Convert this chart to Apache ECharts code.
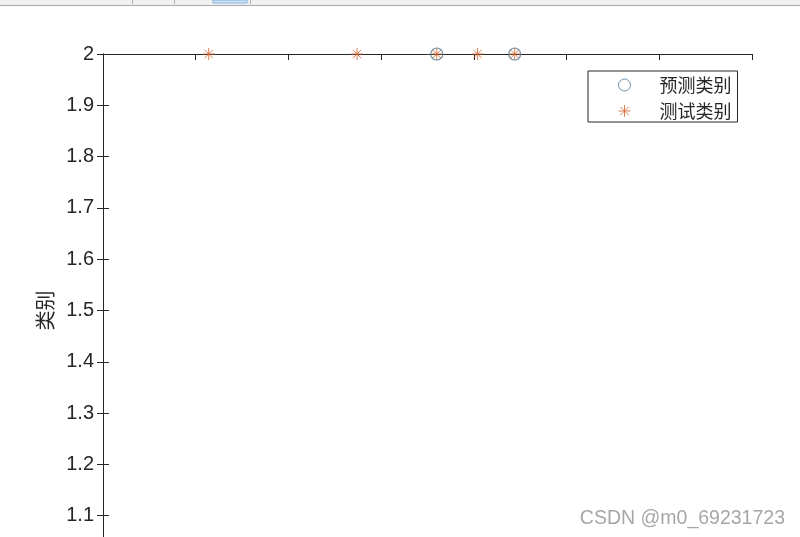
<!DOCTYPE html>
<html>
<head>
<meta charset="utf-8">
<script src="https://cdn.jsdelivr.net/npm/echarts@6/dist/echarts.min.js"></script>
<style>
  html, body { margin: 0; padding: 0; background: #fff; }
  #chart { width: 800px; height: 537px; }
</style>
</head>
<body>
<div id="chart"></div>
<script>
// 数据 (只读出了图中可见的点, y=1 的点在画面下方被裁掉)
var predX = [180, 222];          // 预测类别
var predY = [2, 2];
var testX = [57, 137, 180, 202, 222];   // 测试类别
var testY = [2, 2, 2, 2, 2];
var yTicks = [1, 1.1, 1.2, 1.3, 1.4, 1.5, 1.6, 1.7, 1.8, 1.9, 2];

var axisColor = '#262626';
var starPath = 'path://M0,-10L0,10M-10,0L10,0M-7,-7L7,7M-7,7L7,-7';

function pairs(xs, ys) {
    return xs.map(function(x, i) { return [x, ys[i]]; });
}

var chart = echarts.init(document.getElementById('chart'));

var option = {
    backgroundColor: '#fff',
    animation: false,
    grid: { left: 103, right: 48, top: 54, height: 513, outerBoundsMode: 'none', containLabel: false },
    legend: {
        left: 588,
        top: 71,
        orient: 'vertical',
        backgroundColor: '#fff',
        borderColor: axisColor,
        borderWidth: 1,
        borderRadius: 0,
        padding: [4, 6, 1, 28],
        itemWidth: 60,
        itemHeight: 12,
        itemGap: 6,
        itemStyle: { borderWidth: 1 },
        textStyle: {
            fontFamily: 'Noto Sans CJK SC',
            fontSize: 18,
            lineHeight: 20,
            color: axisColor
        },
        data: ['预测类别', '测试类别']
    },
    xAxis: [{
        type: 'value',
        min: 0, max: 350, interval: 50,
        axisLine: { lineStyle: { color: axisColor } },
        axisTick: { inside: true, length: 6, lineStyle: { color: axisColor } },
        axisLabel: { color: axisColor, fontSize: 20, fontFamily: 'Liberation Sans' },
        splitLine: { show: false }
    }, {
        type: 'value',
        position: 'top',
        min: 0, max: 350, interval: 50,
        axisLine: { lineStyle: { color: axisColor } },
        axisTick: { inside: true, length: 6, lineStyle: { color: axisColor } },
        axisLabel: { show: false },
        splitLine: { show: false }
    }],
    yAxis: [{
        type: 'value',
        min: yTicks[0], max: yTicks[yTicks.length - 1], interval: 0.1,
        name: '类别',
        nameLocation: 'middle',
        nameRotate: 90,
        nameGap: 46,
        nameTextStyle: { fontFamily: 'Noto Sans CJK SC', fontSize: 20, color: axisColor },
        axisLine: { show: true, lineStyle: { color: axisColor } },
        axisTick: { show: true, inside: true, length: 6, lineStyle: { color: axisColor } },
        axisLabel: {
            color: axisColor, fontSize: 20, fontFamily: 'Liberation Sans', margin: 9,
            formatter: function(v) { return String(Math.round(v * 10) / 10); }
        },
        splitLine: { show: false }
    }, {
        type: 'value',
        position: 'right',
        min: yTicks[0], max: yTicks[yTicks.length - 1], interval: 0.1,
        axisLine: { show: true, lineStyle: { color: axisColor } },
        axisTick: { show: true, inside: true, length: 6, lineStyle: { color: axisColor } },
        axisLabel: { show: false },
        splitLine: { show: false }
    }],
    series: [{
        name: '预测类别',
        type: 'scatter',
        clip: false,
        symbol: 'circle',
        symbolSize: 12,
        itemStyle: { color: 'none', borderColor: '#4d7c9c', borderWidth: 1.2 },
        data: pairs(predX, predY)
    }, {
        name: '测试类别',
        type: 'scatter',
        clip: false,
        symbol: starPath,
        symbolSize: 12,
        itemStyle: { color: 'none', borderColor: '#d5652e', borderWidth: 1 },
        data: pairs(testX, testY)
    }],
    graphic: [
        // 顶部 MATLAB 工具栏残边
        { type: 'rect', shape: { x: 0, y: 0, width: 800, height: 5 }, style: { fill: '#f0f0f0' }, silent: true },
        { type: 'line', shape: { x1: 0, y1: 5.5, x2: 800, y2: 5.5 }, style: { stroke: '#a9a9a9', lineWidth: 1 }, silent: true },
        { type: 'line', shape: { x1: 132.5, y1: 0, x2: 132.5, y2: 4 }, style: { stroke: '#b0b0b0', lineWidth: 1 }, silent: true },
        { type: 'line', shape: { x1: 174.5, y1: 0, x2: 174.5, y2: 4 }, style: { stroke: '#b0b0b0', lineWidth: 1 }, silent: true },
        { type: 'line', shape: { x1: 250.5, y1: 0, x2: 250.5, y2: 4 }, style: { stroke: '#b0b0b0', lineWidth: 1 }, silent: true },
        { type: 'rect', shape: { x: 213, y: 0, width: 34, height: 3 }, style: { fill: '#cfe3f7', stroke: '#8ab4e0', lineWidth: 1 }, silent: true },
        // 水印
        {
            type: 'text', right: 15, top: 509, z: 100,
            style: {
                text: 'CSDN @m0_69231723',
                fontFamily: 'Liberation Sans Narrow, Liberation Sans',
                fontSize: 19.5,
                fill: 'rgba(150,150,150,0.85)'
            },
            silent: true
        }
    ]
};

chart.setOption(option);
</script>
</body>
</html>
